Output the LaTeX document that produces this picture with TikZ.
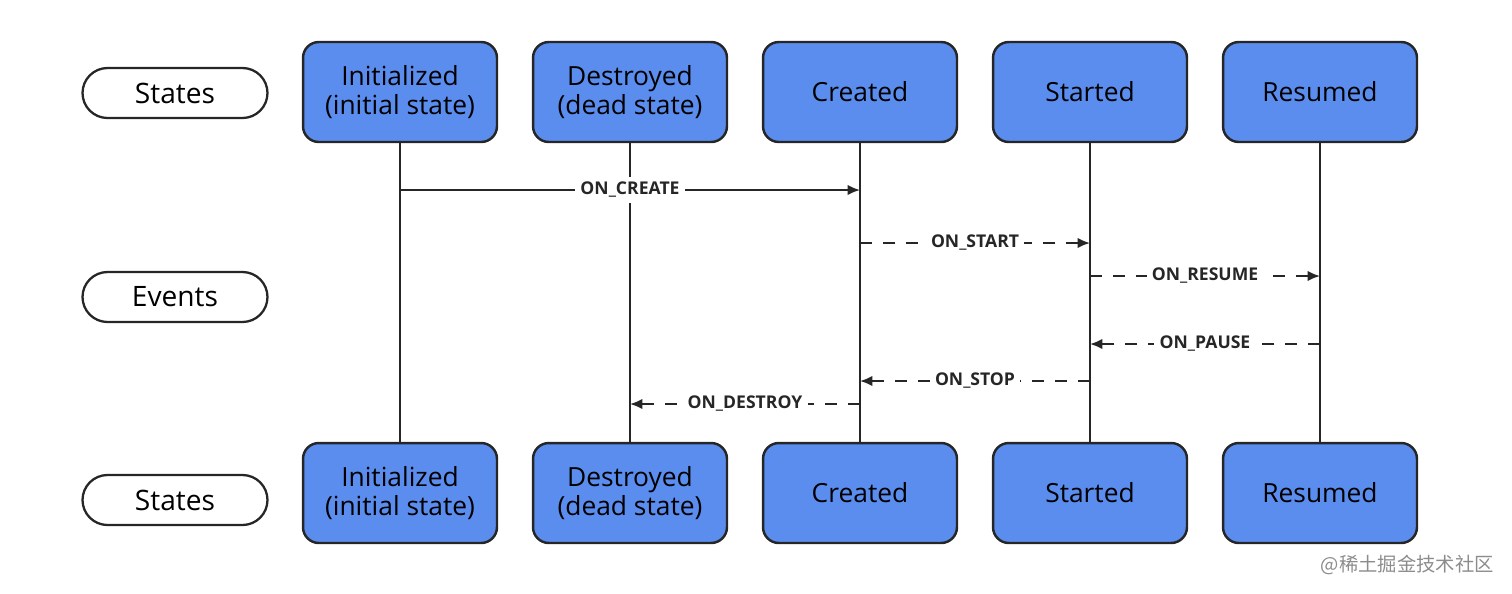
\documentclass[tikz,border=0pt]{standalone}
\usepackage{fontspec}
\setmainfont{Open Sans}
\newfontfamily\cjk{Noto Sans CJK SC}
\usetikzlibrary{arrows.meta}
\definecolor{stateblue}{HTML}{5A8DEE}
\tikzset{state/.style={draw=black!85, line width=1.4pt, fill=stateblue, rounded corners=9pt, minimum width=3.88cm, minimum height=2cm, align=center, font=\fontsize{15}{17}\selectfont, inner sep=0pt}}
\tikzset{pill/.style={draw=black!85, line width=1.3pt, rounded corners=0.5cm, minimum width=3.7cm, minimum height=1cm, font=\fontsize{16}{18}\selectfont}}
\tikzset{life/.style={line width=1.3pt, black!85}}
\tikzset{event/.style={line width=1.2pt, black!85, -{Latex[length=7pt,width=6pt]}}}
\tikzset{later/.style={event, dash pattern=on 7pt off 6pt}}
\tikzset{lbl/.style={fill=white, font=\bfseries\fontsize{10}{12}\selectfont, inner sep=3pt}}
\begin{document}
\begin{tikzpicture}[x=0.02cm, y=-0.02cm]
          \useasboundingbox (0,0) rectangle (1512,593);
          % Legend
          \node[pill] (st1) at (175,93) {States};
          \node[pill] (ev) at (175,297) {Events};
          \node[pill] (st2) at (175,500) {States};
          % States, top and bottom
          \foreach \n/\x/\t in {ini/400/{Initialized\\(initial state)}, des/630/{Destroyed\\(dead state)}, cre/860/Created, sta/1090/Started, res/1320/Resumed} {
            \node[state] (\n1) at (\x,92) {\t};
            \node[state] (\n2) at (\x,493) {\t};
            \draw[life] (\n1) -- (\n2);
          }
          % Events
          \coordinate (a1) at (400,190); \coordinate (a2) at (860,190);
          \draw[event] (a1) -- node[lbl] {ON\_CREATE} (a2);
          \coordinate (b1) at (860,243); \coordinate (b2) at (1090,243);
          \draw[later] (b1) -- node[lbl] {ON\_START} (b2);
          \coordinate (c1) at (1090,276); \coordinate (c2) at (1320,276);
          \draw[later] (c1) -- node[lbl] {ON\_RESUME} (c2);
          \coordinate (d1) at (1320,344); \coordinate (d2) at (1090,344);
          \draw[later] (d1) -- node[lbl] {ON\_PAUSE} (d2);
          \coordinate (e1) at (1090,381); \coordinate (e2) at (860,381);
          \draw[later] (e1) -- node[lbl] {ON\_STOP} (e2);
          \coordinate (f1) at (860,404); \coordinate (f2) at (630,404);
          \draw[later] (f1) -- node[lbl] {ON\_DESTROY} (f2);
          % Watermark
          \node[text=black!45, font=\cjk\fontsize{11}{13}\selectfont, anchor=east] (wm) at (1500,565) {@稀土掘金技术社区};
        \end{tikzpicture}
\end{document}
